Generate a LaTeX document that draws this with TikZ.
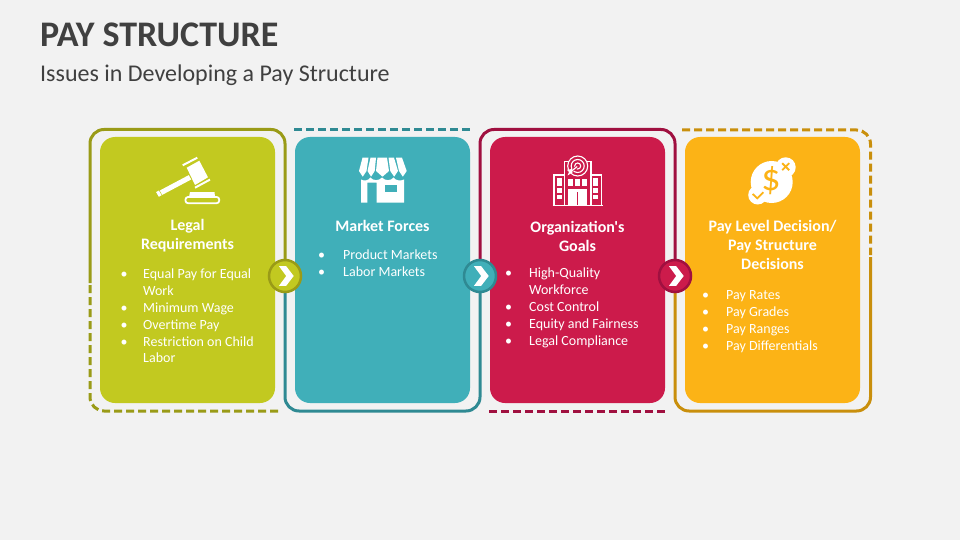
\documentclass[tikz,border=0pt]{standalone}
\usepackage{fontspec}
\setmainfont[Ligatures=TeXOff]{Carlito}
\definecolor{bg}{HTML}{F2F2F2}
\definecolor{ink}{HTML}{404040}
\definecolor{lime}{HTML}{C2C920}
\definecolor{limeD}{HTML}{9A9B17}
\definecolor{teal2}{HTML}{40AFB9}
\definecolor{tealD}{HTML}{2F8A93}
\definecolor{crim}{HTML}{CC1B4B}
\definecolor{crimD}{HTML}{A01040}
\definecolor{gold}{HTML}{FCB316}
\definecolor{goldD}{HTML}{C98F0C}
\newcommand\bl{\makebox[22.5pt][l]{•}}
\newcommand\ind{\hspace*{22.5pt}}
\tikzset{
  card/.style={rectangle,rounded corners=15pt,minimum width=175pt,minimum height=266pt,inner sep=0pt},
  framesolid/.style={line width=3pt,rounded corners=14pt},
  framedash/.style={line width=3pt,rounded corners=14pt,dash pattern=on 8pt off 4pt},
  hub/.style={circle,minimum size=32pt,inner sep=0pt,line width=2.5pt},
  head/.style={text=white,font=\fontsize{16}{19}\selectfont\bfseries,align=center,inner sep=0pt},
  items/.style={text=white,font=\fontsize{14}{16.9}\selectfont,align=left,inner sep=0pt,anchor=north west},
  chev/.style={fill=white,draw=none},
}
\begin{document}
\begin{tikzpicture}[x=1pt,y=-1pt]
\useasboundingbox (0,0) rectangle (960,540);
\fill[bg] (0,0) rectangle (960,540);
\node[anchor=west,inner sep=0pt,text=ink,font=\fontsize{36}{40}\selectfont\bfseries] (title) at (40,35) {PAY STRUCTURE};
\node[anchor=west,inner sep=0pt,text=ink,font=\fontsize{24}{28}\selectfont] (subtitle) at (40,75) {Issues in Developing a Pay Structure};

% hubs positions
\coordinate (h1) at (285,276);
\coordinate (h2) at (480,276);
\coordinate (h3) at (675,276);

% frames
\draw[framesolid,limeD] (90,283) -- (90,129.5) -- (285,129.5) -- (h1);
\draw[framedash,limeD] (90,285) -- (90,411) -- (279,411);
\draw[framedash,tealD,rounded corners=0pt] (294,129.5) -- (472,129.5);
\draw[framesolid,tealD] (h1) -- (285,411) -- (480,411) -- (h2);
\draw[framesolid,crimD] (h2) -- (480,129.5) -- (675,129.5) -- (h3);
\draw[framedash,crimD,rounded corners=0pt] (489,411) -- (667,411);
\draw[framesolid,goldD] (h3) -- (675,411) -- (870.5,411) -- (870.5,257);
\draw[framedash,goldD] (682,130) -- (870.5,130) -- (870.5,255);

% cards
\node[card,fill=lime] (card1) at (187.5,270) {};
\node[card,fill=teal2] (card2) at (382.5,270) {};
\node[card,fill=crim] (card3) at (577.5,270) {};
\node[card,fill=gold] (card4) at (772.5,270) {};

% headings
\node[head] (head1) at (187.5,236) {Legal\\Requirements};
\node[head] (head2) at (382.5,226) {Market Forces};
\node[head] (head3) at (577.5,236) {Organization's\\Goals};
\node[head] (head4) at (772.5,245) {Pay Level Decision/\\Pay Structure\\Decisions};

% lists
\node[items] (list1) at (120.5,268.5) {\bl Equal Pay for Equal\\\ind Work\\\bl Minimum Wage\\\bl Overtime Pay\\\bl Restriction on Child\\\ind Labor};
\node[items] (list2) at (318,249.5) {\makebox[25pt][l]{•}Product Markets\\\makebox[25pt][l]{•}Labor Markets};
\node[items] (list3) at (505,268) {\makebox[24pt][l]{•}High-Quality\\\hspace*{24pt}Workforce\\\makebox[24pt][l]{•}Cost Control\\\makebox[24pt][l]{•}Equity and Fairness\\\makebox[24pt][l]{•}Legal Compliance};
\node[items] (list4) at (702,290.5) {\makebox[24pt][l]{•}Pay Rates\\\makebox[24pt][l]{•}Pay Grades\\\makebox[24pt][l]{•}Pay Ranges\\\makebox[24pt][l]{•}Pay Differentials};

% hub circles
\node[hub,fill=lime,draw=limeD] (hub1) at (h1) {};
\node[hub,fill=teal2,draw=tealD] (hub2) at (h2) {};
\node[hub,fill=crim,draw=crimD] (hub3) at (h3) {};
\foreach \h in {hub1,hub2,hub3}{
  \fill[chev] ([xshift=-6pt,yshift=9.8pt]\h.center) -- ++(7.2,0) -- ++(7.5,9.8) -- ++(-7.5,9.8) -- ++(-7.2,0) -- ++(7.2,-9.8) -- cycle;
}

% gavel
\fill[white] (186.7,167.7) -- (199.3,160.7) -- (208,177.3) -- (195,185) -- cycle;
\draw[white,line width=2pt] (182.7,165.3) -- (197.3,157.7);
\draw[white,line width=2pt] (195,187.7) -- (210,179.6);
\draw[white,line width=5pt] (190,177.3) -- (161,192.7);
\draw[white,line width=3.2pt] (157.5,191.3) -- (160.2,196);
\fill[white] (189,197) -- (190,192) -- (214.5,192) -- (215,197) -- cycle;
\draw[white,line width=1.8pt,rounded corners=2.5pt] (185.5,197) rectangle (219.2,203.2);

% store
\foreach \a/\b/\c/\d in {362.5/368.5/359/366.5, 370.5/376/367.5/374.7, 377.5/387/376/389, 388.5/394/390.3/398, 396/402/399/406.7}{
  \fill[white] (\a,157.7) -- (\b,157.7) -- (\d,171) -- ({(\c+\d)/2},176.7) -- (\c,171) -- cycle;
}
\fill[white] (361,179.5) .. controls (364,181) and (368,181) .. (370.5,177.5) .. controls (373,181) and (379,181) .. (382,177.5) .. controls (385,181) and (391,181) .. (393.5,177.5) .. controls (396,181) and (401,181) .. (404,179.5) -- (404,202.7) -- (376.7,202.7) -- (376.7,182.7) -- (367.3,182.7) -- (367.3,202.7) -- (361,202.7) -- cycle;
\fill[teal2] (385,185) rectangle (396.7,191.7);

% organisation building with target
\draw[white,line width=1.2pt] (554,204.5) -- (554,175) -- (564.3,175);
\draw[white,line width=1.2pt] (601.3,204.5) -- (601.3,175) -- (591,175);
\draw[white,line width=1.2pt] (564.3,204.5) -- (564.3,161.7) -- (591,161.7) -- (591,204.5);
\draw[white,line width=1.6pt] (552.7,205.3) -- (602.7,205.3);
\foreach \x in {557.3,593.2}{
  \fill[white] (\x,178.3) rectangle ++(4.8,7.7);
  \fill[white] (\x,188.3) rectangle ++(4.8,4.4);
  \fill[white] (\x,194.5) rectangle ++(4.8,4.7);
}
\foreach \x in {568.3,575,581.7}{\fill[white] (\x,178.8) rectangle ++(5,7.4);}
\fill[white] (568.3,189) rectangle (586.7,204.6);
\draw[crim,line width=1.2pt] (577.5,192) -- (577.5,205);
\filldraw[fill=crim,draw=white,line width=1.1pt] (577.7,166) circle (10);
\draw[white,line width=1.1pt] (577.7,166) circle (6.5);
\draw[white,line width=1.1pt] (577.7,166) circle (3);
\draw[crim,line width=2.6pt] (576.7,167) -- (567,174.5);
\draw[white,line width=1.2pt] (577.2,166.5) -- (570,172.3);
\fill[white] (572,169) -- (567,169.8) -- (569,172) -- (567.5,175.5) -- (572.5,172.5) -- cycle;

% money icon
\fill[white] (771.7,182) circle (21);
\fill[white] (785.7,167.3) circle (10);
\fill[white] (757.7,195) circle (9.5);
\draw[gold,line width=1.8pt] (782.2,163.2) -- (789.2,170.2);
\draw[gold,line width=1.8pt] (789.2,163.2) -- (782.2,170.2);
\draw[gold,line width=1.8pt] (752.7,194) -- (757.3,198.3) -- (763.3,192.3);
\node[inner sep=0pt,text=gold,font=\fontsize{38}{38}\selectfont] (dollar) at (771,181) {\$};
\end{tikzpicture}
\end{document}
